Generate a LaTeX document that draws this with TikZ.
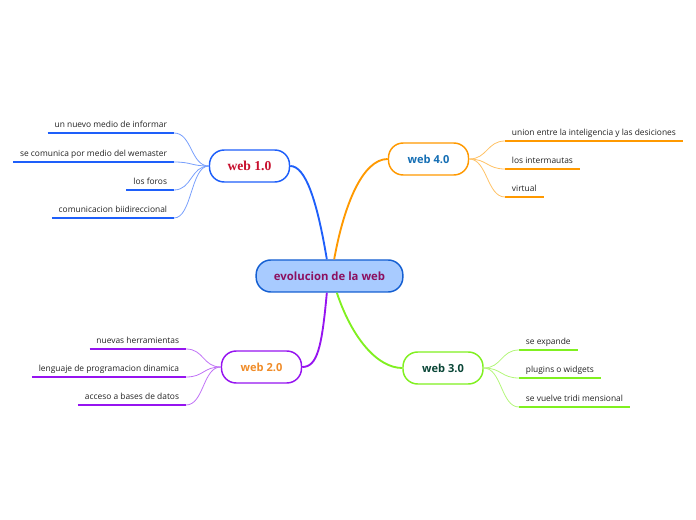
\documentclass[tikz,border=0pt]{standalone}
\usepackage{fontspec}
\setmainfont{Open Sans}
\newfontfamily\serifweb{Liberation Serif}
\usepackage{xcolor}
\definecolor{WebBlue}{RGB}{30,95,250}
\definecolor{WebOrange}{RGB}{255,153,0}
\definecolor{WebPurple}{RGB}{150,20,240}
\definecolor{WebGreen}{RGB}{128,240,32}
\definecolor{CoreBorder}{RGB}{20,95,210}
\definecolor{CoreFill}{RGB}{168,203,255}
\definecolor{CoreText}{RGB}{140,16,96}
\definecolor{OneText}{RGB}{200,16,46}
\definecolor{FourText}{RGB}{20,110,180}
\definecolor{TwoText}{RGB}{240,140,40}
\definecolor{ThreeText}{RGB}{10,70,55}
\definecolor{LeafText}{RGB}{34,34,34}

\tikzset{
  corebox/.style={draw=CoreBorder, fill=CoreFill, line width=1.1pt, rounded corners=11pt,
    minimum width=110pt, minimum height=24pt, inner sep=0pt,
    font=\bfseries\fontsize{8.5}{10}\selectfont, text=CoreText},
  webbox/.style={draw=#1, fill=white, line width=1.1pt, rounded corners=11pt,
    minimum width=60pt, minimum height=24pt, inner sep=0pt,
    font=\bfseries\fontsize{8.3}{10}\selectfont},
  leaf/.style={inner xsep=5pt, inner ysep=4pt, text=LeafText,
    font=\fontsize{6.3}{7}\selectfont, text depth=0pt},
  branch/.style={draw=#1, line width=1.4pt},
  twig/.style={draw=#1!60, line width=0.6pt},
  underl/.style={draw=#1, line width=1.8pt},
}

\begin{document}
\begin{tikzpicture}[x=0.75pt,y=0.75pt,yscale=-1,xscale=1]
\useasboundingbox (0,0) rectangle (696,520);

%Shape: Rounded Rect [center]
\node[corebox] (core) at (329.5,276) {evolucion de la web};

%Shape: Rounded Rect [web boxes]
\node[webbox=WebBlue, text=OneText] (one) at (249.5,166) {\serifweb\bfseries\fontsize{10.2}{11}\selectfont web 1.0};
\node[webbox=WebOrange, text=FourText] (four) at (428.5,159) {web 4.0};
\node[webbox=WebPurple, text=TwoText] (two) at (261.5,367) {web 2.0};
\node[webbox=WebGreen, text=ThreeText] (three) at (443,368) {web 3.0};

%Curve Lines [branches]
\draw[branch=WebBlue] ([xshift=-2pt]core.north) .. controls +(-10,-60) and +(15,0) .. (one.east);
\draw[branch=WebOrange] ([xshift=3.5pt]core.north) .. controls +(10,-55) and +(-25,0) .. (four.west);
\draw[branch=WebPurple] ([xshift=-2pt]core.south) .. controls +(-5,55) and +(15,0) .. (two.east);
\draw[branch=WebGreen] ([xshift=5.5pt]core.south) .. controls +(15,45) and +(-25,0) .. (three.west);

% Text Node [web 1.0 leaves]
\node[leaf, anchor=south east] (o1) at (174,133) {un nuevo medio de informar};
\node[leaf, anchor=south east] (o2) at (174,162) {se comunica por medio del wemaster};
\node[leaf, anchor=south east] (o3) at (174,190) {los foros};
\node[leaf, anchor=south east] (o4) at (174,218) {comunicacion biidireccional};
% Text Node [web 4.0 leaves]
\node[leaf, anchor=south west] (f1) at (505,141) {union entre la inteligencia y las desiciones};
\node[leaf, anchor=south west] (f2) at (505,169) {los intermautas};
\node[leaf, anchor=south west] (f3) at (505,197) {virtual};
% Text Node [web 2.0 leaves]
\node[leaf, anchor=south east] (t1) at (186,349) {nuevas herramientas};
\node[leaf, anchor=south east] (t2) at (186,377) {lenguaje de programacion dinamica};
\node[leaf, anchor=south east] (t3) at (186,405) {acceso a bases de datos};
% Text Node [web 3.0 leaves]
\node[leaf, anchor=south west] (h1) at (519,350) {se expande};
\node[leaf, anchor=south west] (h2) at (519,378) {plugins o widgets};
\node[leaf, anchor=south west] (h3) at (519,407) {se vuelve tridi mensional};

%Straight Lines [underlines] and Curve Lines [twigs]
\foreach \n in {o1,o2,o3,o4} {
  \draw[underl=WebBlue] (\n.south west) -- (\n.south east);
  \draw[twig=WebBlue] (one.west) .. controls +(-18,0) and +(18,0) .. (\n.south east);
}
\foreach \n in {f1,f2,f3} {
  \draw[underl=WebOrange] (\n.south west) -- (\n.south east);
  \draw[twig=WebOrange] (four.east) .. controls +(18,0) and +(-18,0) .. (\n.south west);
}
\foreach \n in {t1,t2,t3} {
  \draw[underl=WebPurple] (\n.south west) -- (\n.south east);
  \draw[twig=WebPurple] (two.west) .. controls +(-18,0) and +(18,0) .. (\n.south east);
}
\foreach \n in {h1,h2,h3} {
  \draw[underl=WebGreen] (\n.south west) -- (\n.south east);
  \draw[twig=WebGreen] (three.east) .. controls +(18,0) and +(-18,0) .. (\n.south west);
}

\end{tikzpicture}
\end{document}
